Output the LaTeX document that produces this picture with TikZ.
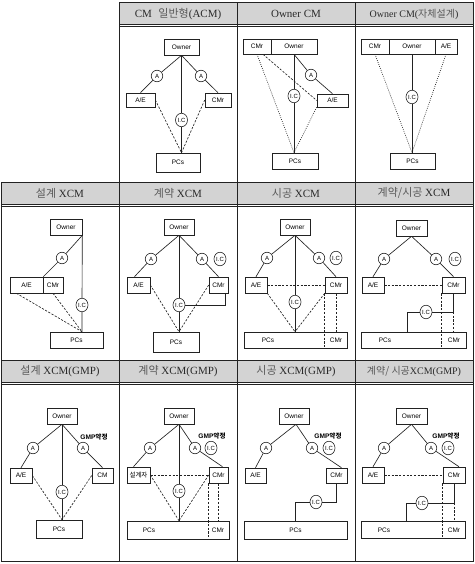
\documentclass[tikz,border=0pt]{standalone}
\usepackage{fontspec}
\usetikzlibrary{shapes.geometric,calc}
\newfontfamily\lbf{Liberation Sans}
\newfontfamily\krf{Noto Sans CJK KR}
\newfontfamily\hdf{Liberation Serif}
\definecolor{lc}{HTML}{222222}
\definecolor{hdbg}{HTML}{D3D3D3}
\definecolor{hdc}{HTML}{2A2A2A}
\definecolor{krc}{HTML}{5A5A5A}
\newcommand\lbfont{\lbf\fontsize{6.5}{7}\selectfont}
\newcommand\cfont{\lbf\fontsize{6}{6}\selectfont}
\newcommand\hdfont{\hdf\fontsize{11}{12}\selectfont}
\newcommand\hdfs{\hdf\fontsize{10}{11}\selectfont}
\newcommand\kr[1]{{\krf\color{krc}#1}}
\newcommand\gmptxt{{\lbf\bfseries GMP}{\krf\bfseries 약정}}
\tikzset{
 box/.style={draw=lc, line width=0.6pt, inner sep=0pt, font=\lbfont},
 lb/.style={inner sep=0pt, font=\lbfont},
 cA/.style={circle, draw=lc, line width=0.6pt, inner sep=0pt, minimum size=11.5pt, font=\cfont},
 cI/.style={ellipse, draw=lc, line width=0.6pt, inner sep=0pt, minimum width=12pt, minimum height=13.5pt, font=\cfont},
 sl/.style={draw=lc, line width=0.65pt},
 dsh/.style={sl, dash pattern=on 2.2pt off 1.5pt},
 dts/.style={sl, dash pattern=on 0.8pt off 1.3pt},
 gm/.style={inner sep=0pt, font=\lbf\fontsize{6.6}{7}\selectfont},
 hd/.style={inner sep=0pt, font=\hdfont, text=hdc},
}
\newcommand\bx[6]{%
 \pgfmathsetmacro\mybw{#4-#2}\pgfmathsetmacro\mybh{#5-#3}%
 \node[box, minimum width=\mybw pt, minimum height=\mybh pt] (#1) at ({(#2+#4)/2},{(#3+#5)/2}) {#6};}
\newcommand\mypanel[5]{%
 \fill[hdbg] (#1,#2) rectangle (#3,#5);
 \draw[line width=1pt, draw=lc] (#1,#2) rectangle (#3,#4);
 \draw[line width=0.6pt, draw=lc] (#1,#5) -- (#3,#5) (#1,#5+2) -- (#3,#5+2);}
\begin{document}
\begin{tikzpicture}[x=1pt,y=-1pt]
\useasboundingbox (0,0) rectangle (474,564);
% frames
\mypanel{119}{3}{237}{182}{24}
\mypanel{237}{3}{355}{182}{24}
\mypanel{355}{3}{473}{182}{24}
\mypanel{1}{182}{119}{360}{204}
\mypanel{119}{182}{237}{360}{204}
\mypanel{237}{182}{355}{360}{204}
\mypanel{355}{182}{473}{360}{204}
\mypanel{1}{360}{119}{561}{382}
\mypanel{119}{360}{237}{561}{382}
\mypanel{237}{360}{355}{561}{382}
\mypanel{355}{360}{473}{561}{382}
% headers
\node[hd] (h1) at (178,14) {CM\hspace{0.6em}\kr{일반형}(ACM)};
\node[hd] (h2) at (296,14) {Owner CM};
\node[hd,font=\hdfs] (h3) at (414,14) {Owner CM(\kr{자체설계})};
\node[hd] (h4) at (60,193) {\kr{설계} XCM};
\node[hd] (h5) at (178,193) {\kr{계약} XCM};
\node[hd] (h6) at (296,193) {\kr{시공} XCM};
\node[hd] (h7) at (414,193) {\kr{계약/시공} XCM};
\node[hd] (h8) at (60,371) {\kr{설계} XCM(GMP)};
\node[hd] (h9) at (178,371) {\kr{계약} XCM(GMP)};
\node[hd] (h10) at (296,371) {\kr{시공} XCM(GMP)};
\node[hd,font=\hdfs] (h11) at (414,371) {\kr{계약/ 시공}XCM(GMP)};
% ---- panel 1: ACM
\bx{o1}{164}{39}{199}{55}{Owner}
\bx{ae1}{126}{93}{155}{107}{A/E}
\bx{cm1}{205}{93}{231}{107}{CMr}
\bx{p1}{156}{153}{200}{172}{PCs}
\node[cA] (a1) at (157,76) {A};
\node[cA] (b1) at (201,76) {A};
\node[cI] (i1) at (181.5,120) {I.C};
\coordinate (j1) at (i1 |- p1.north);
\draw[sl] (o1.south) -- (a1) -- (ae1.north);
\draw[sl] (o1.south) -- (b1) -- (cm1.north);
\draw[sl] (o1.south) -- (i1) -- (j1);
\draw[dsh] (ae1.east) -- (j1);
\draw[dsh] (cm1.west) -- (j1);
% ---- panel 2: Owner CM
\bx{cr2}{243}{39}{271}{54}{CMr}
\bx{o2}{271}{39}{317}{54}{Owner}
\bx{ae2}{317}{94}{348}{107}{A/E}
\bx{p2}{272}{153}{318}{169}{PCs}
\node[cA] (a2) at (311,75) {A};
\node[cI] (i2) at (294,96) {I.C};
\coordinate (j2) at (i2 |- p2.north);
\draw[sl] (o2.south) -- (a2) -- (ae2.north);
\draw[sl] (o2.south) -- (i2) -- (j2);
\draw[dts] (cr2.south) -- (j2);
\draw[dsh] ([xshift=6pt]cr2.south) -- (ae2.west);
\draw[dts] (ae2.south west) -- (j2);
% ---- panel 3: Owner CM (self design)
\bx{cr3}{361}{39}{389}{54}{CMr}
\bx{o3}{389}{39}{435}{54}{Owner}
\bx{ae3}{435}{39}{457}{54}{A/E}
\bx{p3}{390}{153}{435}{169}{PCs}
\node[cI] (i3) at (412,97) {I.C};
\coordinate (j3) at (i3 |- p3.north);
\draw[sl] (o3.south) -- (i3) -- (j3);
\draw[dts] (cr3.south) -- (j3);
\draw[dts] (ae3.south) -- (j3);
% ---- row 2 panel 1
\bx{o4}{50}{219}{82}{235}{Owner}
\bx{ae4}{10}{277}{43}{293}{A/E}
\bx{cm4}{43}{277}{63}{293}{CMr}
\bx{p4}{50}{332}{103}{348}{PCs}
\node[cA] (a4) at (62,258) {A};
\node[cI] (i4) at (82,305) {I.C};
\coordinate (j4) at (i4 |- p4.north);
\draw[sl] (o4.south east) -- (a4) -- (ae4.north east);
\draw[sl] (o4.south east) -- (i4) -- (j4);
\draw[draw=lc, line width=1.3pt] (ae4.north east) -- (ae4.south east);
\draw[dsh] ($(ae4.south west)!.2!(ae4.south east)$) -- (j4);
\draw[dsh] (cm4.south) -- (j4);
% ---- row 2 panel 2
\bx{o5}{164}{219}{194}{235}{Owner}
\bx{ae5}{127}{277}{150}{293}{A/E}
\bx{cm5}{209}{277}{228}{293}{CMr}
\bx{p5}{153}{332}{199}{352}{PCs}
\node[cA] (a5) at (151,259) {A};
\node[cA] (b5) at (202,259) {A};
\node[cI] (r5) at (220,259) {I.C};
\node[cI] (i5) at (179,305) {I.C};
\coordinate (j5) at (i5 |- p5.north);
\draw[sl] (o5.south) -- (a5) -- ([xshift=-4pt]ae5.north);
\draw[sl] (o5.south) -- (b5) -- (cm5.north);
\draw[sl] (o5.south) -- (i5) -- (j5);
\draw[sl] ([xshift=-3pt]cm5.south east) |- (i5);
\draw[dsh] (ae5.east) -- (j5);
\draw[dsh] (cm5.west) -- (j5);
% ---- row 2 panel 3
\bx{o6}{280}{219}{310}{235}{Owner}
\bx{ae6}{245}{277}{267}{293}{A/E}
\bx{cm6}{325}{277}{347}{293}{CMr}
\bx{p6}{244}{332}{347}{348}{}
\node[lb] (t6a) at (268,340) {PCs};
\node[lb] (t6b) at (336,340) {CMr};
\node[cA] (a6) at (267,258) {A};
\node[cA] (b6) at (319,258) {A};
\node[cI] (r6) at (336,258) {I.C};
\node[cI] (i6) at (295,302) {I.C};
\coordinate (j6) at (i6 |- p6.north);
\draw[sl] (o6.south) -- (a6) -- (ae6.north);
\draw[sl] (o6.south) -- (b6) -- (cm6.north);
\draw[sl] (o6.south) -- (i6) -- (j6);
\draw[dsh] (ae6.east) -- (cm6.west);
\draw[dsh] (ae6.south east) -- (j6);
\draw[dsh] (cm6.south west) -- (j6);
\draw[dsh] (cm6.south west) -- (cm6.south west |- p6.south);
\draw[dsh] (cm6.south) -- (cm6.south |- p6.north);
% ---- row 2 panel 4
\bx{o7}{396}{220}{427}{236}{Owner}
\bx{ae7}{362}{277}{384}{293}{A/E}
\bx{cm7}{442}{277}{465}{293}{CMr}
\bx{p7}{361}{332}{466}{348}{}
\node[lb] (t7a) at (385,340) {PCs};
\node[lb] (t7b) at (454,340) {CMr};
\node[cA] (a7) at (384,259) {A};
\node[cA] (b7) at (436,259) {A};
\node[cI] (r7) at (455,259) {I.C};
\node[cI] (i7) at (426,312) {I.C};
\draw[sl] (o7.south) -- (a7) -- (ae7.north);
\draw[sl] (o7.south) -- (b7) -- (cm7.north);
\draw[dsh] (ae7.east) -- (cm7.west);
\draw[sl] (cm7.south) |- (i7);
\draw[sl] (i7) -| ([xshift=-6.5pt]p7.north);
\draw[dsh] (cm7.south west) -- (cm7.south west |- p7.south);
\coordinate (k7) at (cm7.south |- i7);
\draw[dsh] (k7) -- (k7 |- p7.north);
% ---- row 3 panel 1
\bx{o8}{47}{408}{77}{424}{Owner}
\bx{ae8}{10}{468}{32}{483}{A/E}
\bx{cm8}{92}{468}{113}{483}{CM}
\bx{p8}{36}{520}{82}{538}{PCs}
\node[cA] (a8) at (33,448) {A};
\node[cA] (b8) at (83,448) {A};
\node[gm] (g8) at (94,437) {\gmptxt};
\node[cI] (i8) at (62,492) {I.C};
\coordinate (j8) at (i8 |- p8.north);
\draw[sl] (o8.south) -- (a8) -- (ae8.north);
\draw[sl] (o8.south) -- (b8) -- (cm8.north);
\draw[sl] (o8.south) -- (i8) -- (j8);
\draw[dsh] (ae8.east) -- (j8);
\draw[dsh] (cm8.west) -- (j8);
% ---- row 3 panel 2
\bx{o9}{164}{408}{194}{424}{Owner}
\bx{lb9}{127}{467}{150}{483}{\krf\fontsize{6.5}{7}\selectfont 설계자}
\bx{cm9}{209}{467}{228}{483}{CMr}
\bx{p9}{127}{521}{229}{539}{}
\node[lb] (t9a) at (149,530) {PCs};
\node[lb] (t9b) at (218,530) {CMr};
\node[cA] (a9) at (150,448) {A};
\node[cA] (b9) at (195,448) {A};
\node[cI] (r9) at (211,448) {I.C};
\node[gm] (g9) at (212,436) {\gmptxt};
\node[cI] (i9) at (179,491) {I.C};
\coordinate (j9) at (i9 |- p9.north);
\draw[sl] (o9.south) -- (a9) -- ([xshift=-5pt]lb9.north);
\draw[sl] (o9.south) -- (b9) -- ([xshift=4pt]cm9.north);
\draw[sl] (o9.south) -- (i9) -- (j9);
\draw[dsh] (lb9.east) -- (cm9.west);
\draw[dsh] (lb9.east) -- (j9);
\draw[dsh] (cm9.west) -- (j9);
\draw[dsh] (cm9.south west) -- (cm9.south west |- p9.south);
\draw[dsh] (cm9.south) -- (cm9.south |- p9.north);
% ---- row 3 panel 3
\bx{o10}{279}{408}{309}{424}{Owner}
\bx{ae10}{245}{468}{266}{483}{A/E}
\bx{cm10}{326}{468}{347}{483}{CMr}
\bx{p10}{244}{521}{347}{539}{PCs}
\node[cA] (a10) at (266,448) {A};
\node[cA] (b10) at (312,448) {A};
\node[cI] (r10) at (329,448) {I.C};
\node[gm] (g10) at (328,436) {\gmptxt};
\node[cI] (i10) at (316,502) {I.C};
\draw[sl] ([xshift=2pt]o10.south) -- (a10) -- (ae10.north);
\draw[sl] ([xshift=2pt]o10.south) -- (b10) -- ([xshift=5pt]cm10.north);
\draw[sl] (cm10.south) |- (i10);
\draw[sl] (i10) -| (p10.north);
% ---- row 3 panel 4
\bx{o11}{396}{408}{427}{424}{Owner}
\bx{ae11}{362}{467}{384}{483}{A/E}
\bx{cm11}{443}{467}{465}{483}{CMr}
\bx{p11}{361}{521}{465}{538}{}
\node[lb] (t11a) at (384,530) {PCs};
\node[lb] (t11b) at (454,530) {CMr};
\node[cA] (a11) at (384,448) {A};
\node[cA] (b11) at (431,448) {A};
\node[cI] (r11) at (448,448) {I.C};
\node[gm] (g11) at (446,436) {\gmptxt};
\node[cI] (i11) at (422,503) {I.C};
\draw[sl] (o11.south) -- (a11) -- (ae11.north);
\draw[sl] (o11.south) -- (b11) -- ([xshift=5pt]cm11.north);
\draw[dsh] (ae11.east) -- (cm11.west);
\draw[sl] (cm11.south) |- (i11);
\draw[sl] (i11) -| ([xshift=-6.5pt]p11.north);
\draw[dsh] (cm11.south west) -- (cm11.south west |- p11.south);
\coordinate (k11) at (cm11.south |- i11);
\draw[dsh] (k11) -- (k11 |- p11.north);
\end{tikzpicture}
\end{document}
